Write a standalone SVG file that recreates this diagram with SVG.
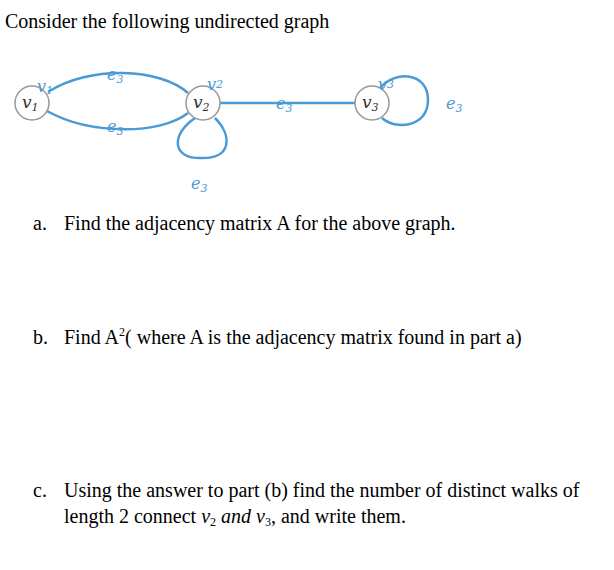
<svg xmlns="http://www.w3.org/2000/svg" width="614" height="570" viewBox="0 0 614 570">
<style>
.t{font-family:"Liberation Serif",serif;font-size:20px;fill:#000}
.e{fill:none;stroke:#4a9ad6;stroke-width:2.5}
.n{fill:#fff;stroke:#999;stroke-width:1.5}
.nl{font-family:"DejaVu Serif",serif;font-style:italic;font-size:17px;fill:#333}
.bl{font-family:"DejaVu Serif",serif;font-style:italic;font-size:16px;fill:#4a9ad6}
</style>
<rect width="614" height="570" fill="#fff"/>
<text class="t" x="5" y="28">Consider the following undirected graph</text>
<g id="connectors">
<path class="e" d="M48,92 C90,65 160,68 188,93"/>
<path class="e" d="M47,111 C90,135 160,135 188,113"/>
<path class="e" d="M220,103 L355,103"/>
<path class="e" d="M195,118 C170,135 172,160 203,158 C232,158 232,135 215,118"/>
<path class="e" d="M380,88 C395,70 428,72 428,100 C428,128 395,130 382,118"/>
</g>
<g id="v1"><circle class="n" cx="32" cy="103" r="17"/><text class="nl" x="22" y="108">v<tspan font-size="11" dy="3">1</tspan></text></g>
<g id="v2"><circle class="n" cx="203" cy="103" r="17"/><text class="nl" x="193" y="108">v<tspan font-size="11" dy="3">2</tspan></text></g>
<g id="v3"><circle class="n" cx="372" cy="103" r="17"/><text class="nl" x="362" y="108">v<tspan font-size="11" dy="3">3</tspan></text></g>
<g id="labels">
<text class="bl" x="37" y="92">v<tspan font-size="11" dy="2">1</tspan></text>
<text class="bl" x="107" y="80">e<tspan font-size="11" dy="3">3</tspan></text>
<text class="bl" x="107" y="132">e<tspan font-size="11" dy="3">3</tspan></text>
<text class="bl" x="207" y="90">v<tspan font-size="11" dy="-2">2</tspan></text>
<text class="bl" x="276" y="109">e<tspan font-size="11" dy="3">3</tspan></text>
<text class="bl" x="378" y="90">v<tspan font-size="11" dy="-2">3</tspan></text>
<text class="bl" x="446" y="109">e<tspan font-size="11" dy="3">3</tspan></text>
<text class="bl" x="191" y="189">e<tspan font-size="11" dy="3">3</tspan></text>
</g>
<text class="t" x="33" y="230">a.</text>
<text class="t" x="64" y="230">Find the adjacency matrix A for the above graph.</text>
<text class="t" x="33" y="344">b.</text>
<text class="t" x="64" y="344">Find A<tspan font-size="12" dy="-8">2</tspan><tspan dy="8">( where A is the adjacency matrix found in part a)</tspan></text>
<text class="t" x="33" y="497">c.</text>
<text class="t" x="64" y="497">Using the answer to part (b) find the number of distinct walks of</text>
<text class="t" x="64" y="523">length 2 connect <tspan font-style="italic">v</tspan><tspan font-size="12" dy="3">2</tspan><tspan dy="-3" font-style="italic"> and v</tspan><tspan font-size="12" dy="3">3</tspan><tspan dy="-3">, and write them.</tspan></text>
</svg>
